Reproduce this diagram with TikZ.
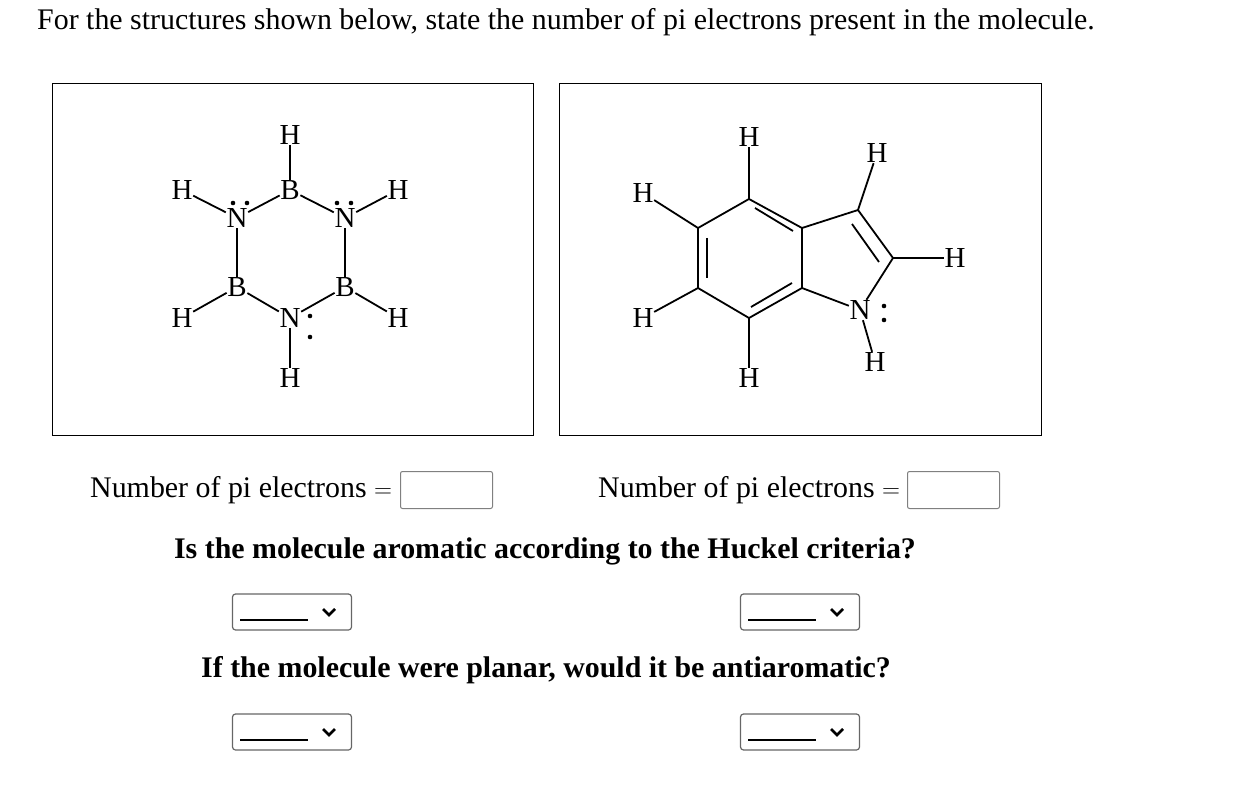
\documentclass[tikz,border=0pt]{standalone}
\usepackage{fontspec}
\setmainfont{Liberation Serif}
\begin{document}
\begin{tikzpicture}[x=1pt,y=-1pt,
  atom/.style={inner sep=0.5pt,font=\fontsize{29}{29}\selectfont},
  bd/.style={line width=1.8pt},
  panel/.style={draw,line width=1.2pt},
  inbox/.style={draw=gray,line width=1pt,rounded corners=2pt,minimum width=92pt,minimum height=37pt,inner sep=0pt},
  ddbox/.style={draw=gray!80!black,line width=1.2pt,rounded corners=3pt,minimum width=119pt,minimum height=36pt,inner sep=0pt},
  txt/.style={font=\fontsize{29.9}{30}\selectfont,inner sep=0pt},
  btxt/.style={font=\fontsize{29.9}{30}\selectfont\bfseries,inner sep=0pt}]
\useasboundingbox (0,0) rectangle (1248,802);
\node[txt,anchor=west] (title) at (37,22) {For the structures shown below, state the number of pi electrons present in the molecule.};
\node[panel,minimum width=481pt,minimum height=352pt,anchor=north west,inner sep=0pt] (p1) at (52,83) {};
\node[panel,minimum width=482pt,minimum height=352pt,anchor=north west,inner sep=0pt] (p2) at (559,83) {};
% left molecule
\node[atom] (B1) at (290,190) {B};
\node[atom] (N1) at (237,218) {N};
\node[atom] (N2) at (345,218) {N};
\node[atom] (B2) at (237,287) {B};
\node[atom] (B3) at (345,287) {B};
\node[atom] (N3) at (290,318) {N};
\node[atom] (H1) at (290,135) {H};
\node[atom] (H2) at (182,190) {H};
\node[atom] (H3) at (398,190) {H};
\node[atom] (H4) at (182,318) {H};
\node[atom] (H5) at (398,318) {H};
\node[atom] (H6) at (290,378) {H};
\foreach \a/\b in {B1/N1,B1/N2,N1/B2,N2/B3,B2/N3,B3/N3,B1/H1,N1/H2,N2/H3,B2/H4,B3/H5,N3/H6}
  \draw[bd] (\a) -- (\b);
\fill (233,203) circle (2.3pt) (247,203) circle (2.3pt) (337,203) circle (2.3pt) (351,203) circle (2.3pt);
\fill (310,316) circle (2.3pt) (310,337) circle (2.3pt);
% right molecule
\coordinate (c1) at (749,199);
\coordinate (c2) at (698,228);
\coordinate (c3) at (698,288);
\coordinate (c4) at (749,318);
\coordinate (c5) at (802,288);
\coordinate (c6) at (802,228);
\coordinate (c7) at (858,210);
\coordinate (c8) at (893,258);
\node[atom] (NN) at (860,310) {N};
\draw[bd] (c1)--(c2)--(c3)--(c4)--(c5)--(c6)--cycle;
\draw[bd] (c6)--(c7)--(c8)--(NN)--(c5);
\draw[bd] (707,238) -- (707,278);
\draw[bd] (751,307) -- (792,283);
\draw[bd] (755,208) -- (793,231);
\draw[bd] (852,224) -- (879,262);
\node[atom] (Ha) at (749,137) {H};
\node[atom] (Hb) at (877,153) {H};
\node[atom] (Hc) at (955,258) {H};
\node[atom] (Hd) at (875,362) {H};
\node[atom] (He) at (749,378) {H};
\node[atom] (Hf) at (643,193) {H};
\node[atom] (Hg) at (643,318) {H};
\draw[bd] (c1)--(Ha); \draw[bd] (c7)--(Hb); \draw[bd] (c8)--(Hc);
\draw[bd] (NN)--(Hd); \draw[bd] (c4)--(He); \draw[bd] (c2)--(Hf); \draw[bd] (c3)--(Hg);
\fill (884,306) circle (2.3pt) (884,320) circle (2.3pt);
% texts
\node[txt,anchor=west] (t1) at (90,490) {Number of pi electrons $=$};
\node[inbox,anchor=west] (i1) at (400,490) {};
\node[txt,anchor=west] (t2) at (598,490) {Number of pi electrons $=$};
\node[inbox,anchor=west] (i2) at (907,490) {};
\node[btxt] (q1) at (545,551) {Is the molecule aromatic according to the Huckel criteria?};
\node[btxt] (q2) at (546,670) {If the molecule were planar, would it be antiaromatic?};
\foreach \n/\x/\y in {d1/292/612,d2/800/612,d3/292/732,d4/800/732}{
  \node[ddbox] (\n) at (\x,\y) {};
  \draw[line width=1.3pt] (\x-52,\y+8) -- (\x+16,\y+8);
  \draw[line width=2.6pt] (\x+31,\y-3) -- (\x+37,\y+3) -- (\x+43,\y-3);
}
\end{tikzpicture}
\end{document}
